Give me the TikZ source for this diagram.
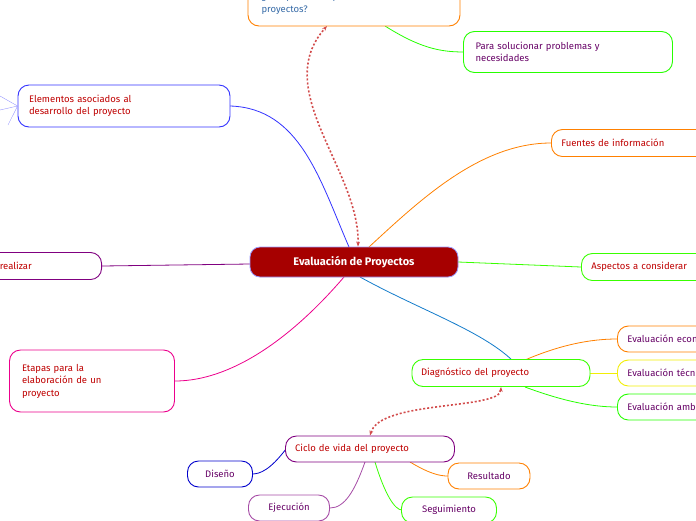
\documentclass[tikz,border=0pt]{standalone}
\usepackage{fontspec}
\setmainfont{Fira Sans}
\usetikzlibrary{arrows.meta}
\begin{document}
\begin{tikzpicture}[x=1pt,y=-1pt,
  box/.style={draw=#1,rounded corners=11pt,line width=0.9pt,fill=white,align=left,font=\fontsize{9.5}{12.5}\selectfont},
  main/.style={rounded corners=10pt,fill=red!65!black,draw=blue!40,line width=0.8pt,text=white,font=\fontsize{11}{12}\selectfont\bfseries},
  dot/.style={dash pattern=on 2pt off 2pt,line width=1.6pt,draw=red!75!black!70,{Stealth[length=5pt]}-{Stealth[length=5pt]}},
  br/.style={line width=0.8pt}]
\useasboundingbox (0,0) rectangle (696,520);
\clip (0,0) rectangle (696,520);
\colorlet{tr}{red!75!black}
\colorlet{pu}{violet!80!black}
\draw[br,blue!80] (349,247) .. controls (320,180) and (300,108) .. (230,106);
\draw[br,orange] (369,247) .. controls (420,200) and (480,143) .. (551,143);
\draw[br,green!70!lime] (458,262) -- (581,267);
\draw[br,violet] (250,264) -- (102,266);
\draw[br,magenta] (344,277) .. controls (290,340) and (230,381) .. (175,381);
\draw[br,cyan!60!blue] (360,277) .. controls (420,310) and (480,330) .. (512,360);
\draw[br,green!80!lime] (385,26) .. controls (420,48) and (440,52) .. (464,52);
\node[main,minimum width=208pt,minimum height=30pt] (c) at (354,262) {Evaluación de Proyectos};
\node[box=orange,minimum width=212pt,minimum height=46pt,text width=185pt,text=cyan!50!blue!80!black] (q) at (354,3) {¿Por qué son importantes los\\proyectos?};
\node[box=green!80!lime,minimum width=209pt,minimum height=41pt,text width=185pt,text=pu] (p) at (568,52) {Para solucionar problemas y\\necesidades};
\node[box=blue!80,minimum width=212pt,minimum height=42pt,text width=190pt,text=tr] (e) at (124,106) {Elementos asociados al\\desarrollo del proyecto};
\node[box=orange,minimum width=200pt,minimum height=27pt,text width=180pt,text=tr,anchor=west] (f) at (551,143) {Fuentes de información};
\node[box=green!70!lime,minimum width=200pt,minimum height=27pt,text width=180pt,text=tr,anchor=west] (a) at (581,267) {Aspectos a considerar};
\node[box=violet,minimum width=160pt,minimum height=27pt,text width=140pt,text=tr,anchor=east] (s) at (102,266) {Estudios a realizar};
\node[box=magenta,minimum width=165pt,minimum height=62pt,text width=140pt,text=tr] (et) at (92,381) {Etapas para la\\elaboración de un\\proyecto};
\draw[br,orange] (525,360) .. controls (560,345) and (590,339) .. (617,339);
\draw[br,yellow!80!lime] (590,373) -- (617,373);
\draw[br,green!80!lime] (525,387) .. controls (560,400) and (590,407) .. (617,407);
\draw[br,blue!80!black] (286,449) .. controls (270,470) and (260,474) .. (252,474);
\draw[br,orange] (410,462) .. controls (430,474) and (440,476) .. (448,476);
\draw[br,violet!70] (365,462) .. controls (355,490) and (345,508) .. (330,508);
\draw[br,green!70!lime] (375,462) .. controls (385,495) and (395,510) .. (402,510);
\node[box=green!70!lime,minimum width=178pt,minimum height=27pt,text width=160pt,text=tr] (d) at (501,373) {Diagnóstico del proyecto};
\node[box=orange,minimum width=150pt,minimum height=26pt,text width=130pt,text=pu,anchor=west] (v1) at (617,339) {Evaluación económica};
\node[box=yellow!80!lime,minimum width=150pt,minimum height=26pt,text width=130pt,text=pu,anchor=west] (v2) at (617,373) {Evaluación técnica};
\node[box=green!80!lime,minimum width=150pt,minimum height=26pt,text width=130pt,text=pu,anchor=west] (v3) at (617,407) {Evaluación ambiental};
\node[box=violet,minimum width=169pt,minimum height=26pt,text width=150pt,text=tr] (ci) at (370,449) {Ciclo de vida del proyecto};
\node[box=blue!80!black,minimum width=65pt,minimum height=26pt,align=center,text=pu] (di) at (220,474) {Diseño};
\node[box=orange,minimum width=82pt,minimum height=26pt,align=center,text=pu] (r) at (489,476) {Resultado};
\node[box=violet!70,minimum width=81pt,minimum height=26pt,align=center,text=pu] (ej) at (289,508) {Ejecución};
\node[box=green!70!lime,minimum width=95pt,minimum height=26pt,align=center,text=pu] (sg) at (449,510) {Seguimiento};
\draw[line width=0.4pt,blue!40] (e.west) -- (0,96) (e.west) -- (0,110) (e.west) -- (8,125);
\draw[dot] (c.north) ++(4,0) .. controls (360,170) and (270,90) .. (327,26);
\draw[dot] (ci.north) .. controls (380,400) and (500,410) .. (d.south);
\end{tikzpicture}
\end{document}
